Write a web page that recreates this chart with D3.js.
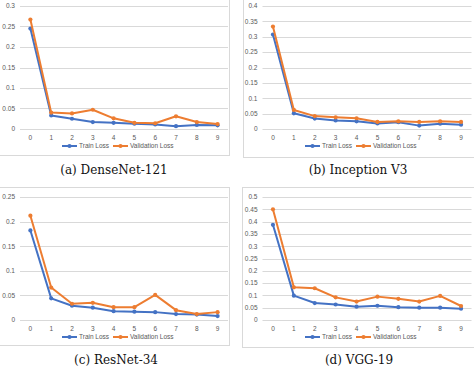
<!DOCTYPE html>
<html><head><meta charset="utf-8">
<script src="https://cdn.jsdelivr.net/npm/d3@7"></script>
<style>body{margin:0;background:#fff}svg{display:block}</style>
</head><body>
<svg id="c" width="474" height="366"></svg>
<script>
const epochs = ["0","1","2","3","4","5","6","7","8","9"];
const denseTrain = [0.245,0.033,0.025,0.017,0.015,0.013,0.011,0.007,0.010,0.009];
const denseVal   = [0.267,0.040,0.038,0.047,0.026,0.015,0.014,0.031,0.017,0.012];
const incTrain = [0.307,0.051,0.034,0.028,0.025,0.018,0.022,0.011,0.017,0.014];
const incVal   = [0.333,0.062,0.042,0.038,0.035,0.023,0.025,0.023,0.025,0.023];
const resTrain = [0.182,0.044,0.029,0.025,0.018,0.017,0.016,0.012,0.011,0.008];
const resVal   = [0.212,0.066,0.033,0.035,0.026,0.026,0.051,0.020,0.012,0.016];
const vggTrain = [0.387,0.099,0.069,0.063,0.054,0.058,0.052,0.050,0.050,0.046];
const vggVal   = [0.450,0.133,0.129,0.092,0.075,0.095,0.086,0.075,0.098,0.057];
const denseTicks = [0,0.05,0.1,0.15,0.2,0.25,0.3];
const incTicks = [0,0.05,0.1,0.15,0.2,0.25,0.3,0.35,0.4];
const resTicks = [0,0.05,0.1,0.15,0.2,0.25];
const vggTicks = [0,0.05,0.1,0.15,0.2,0.25,0.3,0.35,0.4,0.45,0.5];
const seriesNames = ["Train Loss","Validation Loss"];
const captions = ["(a) DenseNet-121","(b) Inception V3","(c) ResNet-34","(d) VGG-19"];

const colors = ["#4472C4","#ED7D31"];
const svg = d3.select("#c");

const panels = [
  {train:denseTrain,val:denseVal,ticks:denseTicks,cap:captions[0],
   frame:[-2,-10,229,155], x0:20, x1:228, yTop:6, yBot:129, legY:146, capX:114, capY:174},
  {train:incTrain,val:incVal,ticks:incTicks,cap:captions[1],
   frame:[243,-10,480,157], x0:262.5, x1:471.5, yTop:6, yBot:129, legY:146, capX:358, capY:174},
  {train:resTrain,val:resVal,ticks:resTicks,cap:captions[2],
   frame:[-2,187,229,345], x0:20, x1:228, yTop:197, yBot:320, legY:337, capX:116, capY:364},
  {train:vggTrain,val:vggVal,ticks:vggTicks,cap:captions[3],
   frame:[242,187,480,347], x0:262.5, x1:471.5, yTop:197, yBot:320, legY:337, capX:359, capY:364}
];

panels.forEach(p => {
  const g = svg.append("g");
  g.append("rect").attr("x",p.frame[0]+0.5).attr("y",p.frame[1]+0.5)
    .attr("width",p.frame[2]-p.frame[0]).attr("height",p.frame[3]-p.frame[1])
    .attr("fill","#fff").attr("stroke","#d9d9d9").attr("stroke-width",1);
  const x = d3.scaleBand().domain(epochs).range([p.x0,p.x1]);
  const y = d3.scaleLinear().domain([0,d3.max(p.ticks)]).range([p.yBot,p.yTop]);
  g.selectAll(".grid").data(p.ticks).enter().append("line")
    .attr("x1",p.x0).attr("x2",p.x1)
    .attr("y1",d=>Math.round(y(d))+0.5).attr("y2",d=>Math.round(y(d))+0.5)
    .attr("stroke","#d9d9d9").attr("stroke-width",1);
  g.selectAll(".yl").data(p.ticks).enter().append("text")
    .attr("x",p.x0-5).attr("y",d=>y(d)+2.3)
    .attr("text-anchor","end").attr("font-family","Liberation Sans, Arial, sans-serif")
    .attr("font-size",6.5).attr("fill","#595959").text(d=>d===0?"0":String(d));
  g.selectAll(".xl").data(epochs).enter().append("text")
    .attr("x",d=>x(d)+x.bandwidth()/2).attr("y",p.yBot+10.5)
    .attr("text-anchor","middle").attr("font-family","Liberation Sans, Arial, sans-serif")
    .attr("font-size",6.5).attr("fill","#595959").text(d=>d);
  const line = d3.line().x((d,i)=>x(epochs[i])+x.bandwidth()/2).y(d=>y(d));
  [p.train,p.val].forEach((s,k)=>{
    g.append("path").datum(s).attr("d",line).attr("fill","none")
      .attr("stroke",colors[k]).attr("stroke-width",2).attr("stroke-linejoin","round");
    g.selectAll(".pt"+k).data(s).enter().append("circle")
      .attr("cx",(d,i)=>x(epochs[i])+x.bandwidth()/2).attr("cy",d=>y(d))
      .attr("r",2.1).attr("fill",colors[k]);
  });
  const mid = (p.x0+p.x1)/2 - 5;
  const legX = [mid-57, mid-6];
  seriesNames.forEach((n,k)=>{
    const lx = legX[k];
    g.append("line").attr("x1",lx).attr("x2",lx+15).attr("y1",p.legY).attr("y2",p.legY)
      .attr("stroke",colors[k]).attr("stroke-width",2);
    g.append("circle").attr("cx",lx+7.5).attr("cy",p.legY).attr("r",2.1).attr("fill",colors[k]);
    g.append("text").attr("x",lx+17).attr("y",p.legY+2.3)
      .attr("font-family","Liberation Sans, Arial, sans-serif").attr("font-size",6.5)
      .attr("fill","#595959").text(n);
  });
  svg.append("text").attr("x",p.capX).attr("y",p.capY).attr("text-anchor","middle")
    .attr("font-family","DejaVu Serif, serif").attr("font-size",12).attr("fill","#111")
    .text(p.cap);
});
</script>
</body></html>
